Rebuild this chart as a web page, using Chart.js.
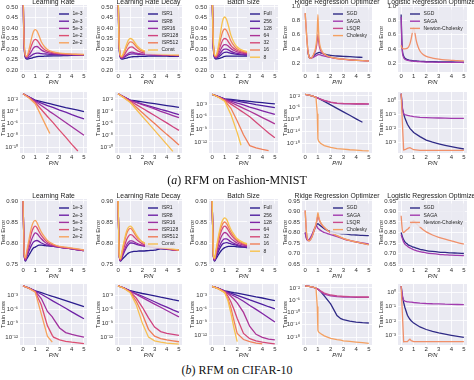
<!DOCTYPE html>
<html><head><meta charset="utf-8">
<script src="https://cdn.jsdelivr.net/npm/chart.js@4/dist/chart.umd.min.js"></script>
<style>
html,body{margin:0;padding:0;background:#fff}
body{width:474px;height:380px;position:relative;overflow:hidden;font-family:"Liberation Sans",Arial,sans-serif}
canvas{position:absolute}
.t{position:absolute;font-size:6.8px;line-height:7px;color:#222;white-space:nowrap;transform:translateX(-50%);z-index:3}
.cap{position:absolute;font-family:"Liberation Serif","Times New Roman",serif;font-size:12px;line-height:14px;color:#111;white-space:nowrap;transform:translateX(-50%);z-index:3}
</style></head><body>
<script>
// ================= DATA =================
// x grids (P/N)
const teX   = [0,0.05,0.1,0.2,0.3,0.5,0.7,0.85,1.0,1.15,1.3,1.5,1.75,2.0,2.5,3.0,3.5,4.0,4.5,5.0];
const teXbs = [0,0.05,0.1,0.2,0.3,0.5,0.7,0.85,1.0,1.15,1.3,1.5,1.75,2.0,2.5,3.0];
const rrX   = [0,0.1,0.2,0.3,0.4,0.5,0.6,0.7,0.8,0.9,0.95,1.0,1.05,1.1,1.2,1.35,1.5,1.75,2.0,2.5,3.0,3.5,4.0,4.5,5.0];
const lgX   = [0,0.05,0.1,0.2,0.3,0.5,0.6,0.7,0.8,0.9,1.0,1.1,1.2,1.35,1.5,1.75,2.0,2.5,3.0,3.5,4.0,4.5,5.0];
const tlX   = [0,0.5,1,1.5,2,2.5,3,3.5,4,4.5,5];
const fmLRtlX = [0,0.5,1,1.5,2,2.2,2.5,3,3.5,4,4.5,5];
const fmBStlX = [0,0.5,1,1.5,2,2.3,2.5,3,3.5,4,4.5,5];
const rrTlX   = [0,0.3,0.6,0.85,0.95,1.0,1.05,1.2,1.5,2,2.5,3,3.5,4,4.5,5];
const lgTlX   = [0,0.1,0.2,0.3,0.5,0.7,1.0,1.5,2,2.5,3,3.5,4,4.5,5];
const cfLRtlX = [0,0.5,1,1.5,2,2.4,2.5,3,3.5,4,4.5,5];
const cfBStlX = [0,0.5,1,1.25,1.5,1.75,2,2.5,3,3.5,4,4.5,5];
const cfRRtlX = [0,0.3,0.6,0.85,0.95,1.0,1.05,1.2,1.5,2,2.5,2.8,3,3.5,4,4.5,5];
const cfLGtlX = [0,0.1,0.2,0.3,0.5,0.6,0.7,0.8,1.0,1.5,2,2.5,3,3.5,4,4.5,5];

// labels
const lrLabels  = ['1e-3','2e-3','5e-3','1e-2','2e-2'];
const isrLabels = ['ISR1','ISR8','ISR16','ISR128','ISR512','Const'];
const bsLabels  = ['Full','256','128','64','32','16','8'];
const rrLabels  = ['SGD','SAGA','LSQR','Cholesky'];
const lgLabels  = ['SGD','SAGA','Newton-Cholesky'];
const titles    = ['Learning Rate','Learning Rate Decay','Batch Size','Ridge Regression Optimizer','Logistic Regression Optimizer'];

// ---- Fashion-MNIST test error ----
const fmLR_1e3 = [0.60,0.40,0.30,0.258,0.252,0.254,0.257,0.26,0.262,0.264,0.265,0.265,0.266,0.267,0.268,0.268,0.269,0.27,0.27,0.27];
const fmLR_2e3 = [0.60,0.41,0.31,0.262,0.256,0.262,0.27,0.276,0.279,0.281,0.28,0.278,0.277,0.276,0.274,0.273,0.272,0.272,0.271,0.271];
const fmLR_5e3 = [0.60,0.41,0.31,0.265,0.26,0.272,0.29,0.304,0.311,0.312,0.306,0.296,0.288,0.283,0.278,0.276,0.274,0.273,0.272,0.272];
const fmLR_1e2 = [0.60,0.42,0.32,0.268,0.263,0.285,0.318,0.338,0.346,0.342,0.33,0.312,0.298,0.29,0.282,0.278,0.276,0.275,0.274,0.273];
const fmLR_2e2 = [0.60,0.42,0.32,0.27,0.266,0.30,0.352,0.382,0.392,0.385,0.365,0.335,0.312,0.298,0.286,0.281,0.278,0.276,0.275,0.274];

const fmLRD_ISR1   = [0.60,0.40,0.30,0.258,0.252,0.254,0.257,0.26,0.262,0.263,0.264,0.264,0.265,0.265,0.266,0.266,0.266,0.266,0.265,0.265];
const fmLRD_ISR8   = [0.60,0.41,0.31,0.262,0.256,0.261,0.268,0.273,0.276,0.277,0.277,0.276,0.275,0.274,0.272,0.271,0.27,0.27,0.269,0.268];
const fmLRD_ISR16  = [0.60,0.41,0.31,0.263,0.257,0.264,0.273,0.28,0.284,0.285,0.283,0.28,0.278,0.276,0.274,0.272,0.271,0.27,0.27,0.269];
const fmLRD_ISR128 = [0.60,0.41,0.31,0.265,0.26,0.272,0.29,0.303,0.309,0.31,0.305,0.296,0.288,0.283,0.278,0.275,0.273,0.272,0.271,0.27];
const fmLRD_ISR512 = [0.60,0.42,0.32,0.268,0.263,0.282,0.309,0.326,0.334,0.333,0.325,0.311,0.298,0.29,0.282,0.278,0.275,0.273,0.272,0.271];
const fmLRD_Const  = [0.60,0.42,0.32,0.27,0.265,0.29,0.322,0.342,0.35,0.347,0.337,0.32,0.305,0.295,0.285,0.28,0.277,0.275,0.273,0.272];

const fmBS_Full = [0.60,0.40,0.30,0.258,0.252,0.254,0.258,0.262,0.265,0.266,0.266,0.266,0.266,0.266,0.266,0.266];
const fmBS_256  = [0.60,0.41,0.31,0.262,0.256,0.262,0.272,0.28,0.284,0.285,0.283,0.28,0.277,0.275,0.272,0.27];
const fmBS_128  = [0.60,0.41,0.31,0.263,0.258,0.268,0.284,0.295,0.30,0.30,0.296,0.289,0.283,0.279,0.275,0.273];
const fmBS_64   = [0.60,0.41,0.31,0.265,0.26,0.276,0.30,0.315,0.321,0.32,0.313,0.302,0.293,0.287,0.28,0.277];
const fmBS_32   = [0.60,0.42,0.32,0.268,0.263,0.287,0.322,0.343,0.35,0.346,0.334,0.316,0.302,0.293,0.284,0.28];
const fmBS_16   = [0.60,0.42,0.32,0.27,0.266,0.30,0.353,0.384,0.395,0.388,0.368,0.338,0.315,0.30,0.288,0.283];
const fmBS_8    = [0.60,0.43,0.33,0.272,0.27,0.315,0.39,0.437,0.452,0.44,0.41,0.365,0.33,0.31,0.292,0.285];

const fmRR_SGD  = [null,null,0.38,0.29,0.27,0.275,0.29,0.31,0.325,0.335,0.34,0.345,0.348,0.35,0.345,0.335,0.325,0.315,0.31,0.30,0.295,0.29,0.285,0.28,null];
const fmRR_SAGA = [null,null,0.38,0.29,0.27,0.27,0.278,0.288,0.298,0.308,0.313,0.318,0.32,0.32,0.315,0.306,0.298,0.288,0.28,0.266,0.256,0.248,0.241,0.236,0.232];
const fmRR_LSQR = [0.90,0.62,0.40,0.29,0.27,0.275,0.295,0.33,0.37,0.45,0.52,0.60,0.52,0.45,0.38,0.34,0.32,0.295,0.28,0.262,0.252,0.244,0.238,0.234,0.23];
const fmRR_Chol = [0.90,0.62,0.40,0.29,0.27,0.275,0.30,0.34,0.40,0.52,0.65,0.88,0.66,0.52,0.42,0.36,0.33,0.30,0.285,0.265,0.255,0.245,0.24,0.235,0.23];

const fmLG_SGD  = [0.88,0.55,0.38,0.30,0.27,0.25,0.245,0.24,0.237,0.235,0.233,0.232,0.23,0.228,0.226,0.224,0.222,0.22,0.218,0.217,0.216,0.215,0.214];
const fmLG_SAGA = [0.85,0.50,0.35,0.28,0.255,0.24,0.236,0.232,0.23,0.228,0.226,0.225,0.224,0.222,0.22,0.218,0.216,0.214,0.212,0.211,0.21,0.21,0.209];
const fmLG_NC   = [0.45,0.42,0.41,0.40,0.40,0.41,0.43,0.47,0.54,0.63,0.70,0.62,0.52,0.43,0.37,0.32,0.295,0.27,0.255,0.245,0.24,0.235,0.232];

// ---- Fashion-MNIST train loss (log10 of loss) ----
const fmLRtl_1e3 = [-1.15,-1.7,-2.2,-2.45,-2.7,-2.8,-2.95,-3.2,-3.45,-3.65,-3.85,-4.1];
const fmLRtl_2e3 = [-1.15,-1.7,-2.3,-2.7,-3.1,-3.25,-3.45,-3.85,-4.2,-4.6,-4.95,-5.3];
const fmLRtl_5e3 = [-1.15,-1.75,-2.4,-3.1,-3.8,-4.1,-4.5,-5.2,-5.9,-6.6,-7.3,-8.0];
const fmLRtl_1e2 = [-1.15,-1.8,-2.6,-3.75,-4.9,-5.35,-6.0,-7.2,-8.3,-9.5,-10.6,null];
const fmLRtl_2e2 = [-1.15,-1.85,-2.8,-4.85,-6.9,-7.7,null,null,null,null,null,null];

const fmLRDtl_ISR1   = [-1.15,-1.7,-2.2,-2.35,-2.5,-2.65,-2.8,-2.95,-3.1,-3.25,-3.4];
const fmLRDtl_ISR8   = [-1.15,-1.7,-2.25,-2.55,-2.85,-3.15,-3.45,-3.75,-4.0,-4.3,-4.6];
const fmLRDtl_ISR16  = [-1.15,-1.7,-2.25,-2.6,-2.95,-3.3,-3.65,-4.05,-4.4,-4.75,-5.1];
const fmLRDtl_ISR128 = [-1.15,-1.75,-2.35,-2.95,-3.55,-4.15,-4.75,-5.35,-5.95,-6.6,-7.2];
const fmLRDtl_ISR512 = [-1.15,-1.8,-2.5,-3.4,-4.3,-5.2,-6.05,-6.95,-7.85,-8.7,-9.6];
const fmLRDtl_Const  = [-1.15,-1.85,-2.6,-3.75,-4.9,-6.05,-7.2,-8.35,-9.5,-10.65,null];

const fmBStl_Full = [-0.65,-1.2,-1.75,-1.9,-2.05,-2.15,-2.2,-2.35,-2.5,-2.65,-2.8,-2.95];
const fmBStl_256  = [-0.65,-1.2,-1.8,-2.05,-2.3,-2.45,-2.55,-2.8,-3.1,-3.35,-3.6,-3.85];
const fmBStl_128  = [-0.65,-1.2,-1.85,-2.3,-2.75,-3.0,-3.2,-3.7,-4.15,-4.6,-5.05,-5.45];
const fmBStl_64   = [-0.65,-1.25,-1.9,-2.6,-3.3,-3.7,-4.0,-4.7,-5.45,-6.2,-6.95,-7.7];
const fmBStl_32   = [-0.65,-1.25,-2.0,-3.0,-4.0,-4.6,-5.0,-6.0,-7.3,-8.6,-9.9,-11.0];
const fmBStl_16   = [-0.65,-1.3,-2.2,-4.0,-7.0,-9.0,-10.3,-12.9,-13.4,-13.8,-14.1,null];
const fmBStl_8    = [-0.65,-1.35,-2.3,-5.5,-9.8,-12.8,null,null,null,null,null,null];

const fmRRtl_SGD  = [-1.45,-1.7,-2.1,-2.45,-2.6,-2.7,-2.8,-3.15,-3.85,-5.0,-6.2,-7.4,-8.55,-9.75,-10.9,null];
const fmRRtl_SAGA = [-1.45,-1.7,-2.1,-2.45,-2.6,-2.7,-2.8,-3.1,-3.6,-4.2,-4.5,-4.65,-4.7,-4.75,-4.75,-4.8];
const fmRRtl_LSQR = [-1.45,-1.7,-2.1,-2.45,-2.6,-2.7,-2.8,-3.05,-3.5,-4.1,-4.4,-4.55,-4.6,-4.65,-4.65,-4.7];
const fmRRtl_Chol = [-1.45,-1.7,-2.1,-2.5,-8.0,-16.5,-17.2,-18.0,-18.8,-19.4,-19.8,-20.0,-20.2,-20.35,-20.5,-20.6];

const fmLGtl_SGD  = [0.52,-0.6,-0.95,-1.25,-1.7,-2.0,-2.3,-2.6,-2.85,-3.0,-3.12,-3.23,-3.33,-3.42,-3.5];
const fmLGtl_SAGA = [0.52,-0.5,-0.95,-1.0,-1.05,-1.1,-1.15,-1.2,-1.22,-1.24,-1.25,-1.26,-1.27,-1.28,-1.28];
const fmLGtl_NC   = [0.52,-1.64,-3.57,-3.55,-3.45,-3.4,-3.55,-3.6,-3.6,-3.6,-3.6,-3.6,-3.6,-3.6,-3.6];

// ---- CIFAR-10 test error ----
const cfLR_1e3 = [0.90,0.83,0.77,0.757,0.762,0.772,0.782,0.788,0.79,0.793,0.795,0.795,0.794,0.793,0.792,0.79,0.788,0.786,0.784,0.782];
const cfLR_2e3 = [0.90,0.83,0.77,0.758,0.766,0.782,0.795,0.802,0.805,0.806,0.804,0.80,0.797,0.795,0.792,0.79,0.788,0.786,0.784,0.782];
const cfLR_5e3 = [0.90,0.83,0.77,0.76,0.77,0.79,0.808,0.818,0.824,0.822,0.817,0.81,0.803,0.798,0.793,0.79,0.788,0.786,0.784,0.782];
const cfLR_1e2 = [0.90,0.83,0.772,0.762,0.775,0.80,0.825,0.836,0.84,0.836,0.828,0.818,0.809,0.802,0.795,0.791,0.789,0.787,0.785,0.783];
const cfLR_2e2 = [0.90,0.83,0.773,0.765,0.78,0.81,0.838,0.85,0.854,0.848,0.838,0.826,0.815,0.806,0.797,0.792,0.79,0.788,0.786,0.783];

const cfLRD_ISR1   = [0.90,0.83,0.77,0.757,0.76,0.766,0.772,0.776,0.778,0.779,0.78,0.78,0.781,0.781,0.782,0.783,0.786,0.785,0.784,0.783];
const cfLRD_ISR8   = [0.90,0.83,0.77,0.758,0.764,0.778,0.79,0.796,0.80,0.80,0.799,0.797,0.795,0.793,0.791,0.789,0.787,0.786,0.784,0.783];
const cfLRD_ISR16  = [0.90,0.83,0.77,0.758,0.766,0.782,0.796,0.802,0.805,0.805,0.803,0.80,0.797,0.795,0.792,0.79,0.788,0.786,0.784,0.783];
const cfLRD_ISR128 = [0.90,0.83,0.77,0.76,0.77,0.79,0.808,0.816,0.82,0.819,0.815,0.809,0.803,0.798,0.793,0.79,0.788,0.786,0.784,0.783];
const cfLRD_ISR512 = [0.90,0.83,0.77,0.762,0.774,0.80,0.822,0.831,0.835,0.832,0.825,0.816,0.808,0.802,0.795,0.791,0.789,0.787,0.785,0.783];
const cfLRD_Const  = [0.90,0.83,0.77,0.763,0.777,0.805,0.828,0.837,0.84,0.837,0.83,0.82,0.81,0.803,0.796,0.792,0.79,0.788,0.786,0.783];

const cfBS_Full = [0.90,0.83,0.77,0.757,0.762,0.772,0.781,0.786,0.789,0.791,0.792,0.792,0.792,0.791,0.79,0.788];
const cfBS_256  = [0.90,0.83,0.77,0.758,0.765,0.78,0.792,0.798,0.80,0.801,0.80,0.798,0.796,0.794,0.791,0.789];
const cfBS_128  = [0.90,0.83,0.77,0.759,0.768,0.786,0.80,0.807,0.81,0.81,0.807,0.803,0.799,0.796,0.792,0.79];
const cfBS_64   = [0.90,0.83,0.77,0.76,0.772,0.795,0.813,0.821,0.825,0.823,0.818,0.811,0.805,0.80,0.795,0.792];
const cfBS_32   = [0.90,0.83,0.77,0.762,0.776,0.804,0.826,0.836,0.84,0.837,0.83,0.82,0.811,0.804,0.797,0.793];
const cfBS_16   = [0.90,0.83,0.77,0.763,0.779,0.81,0.835,0.846,0.85,0.846,0.838,0.826,0.815,0.807,0.799,0.795];
const cfBS_8    = [0.90,0.83,0.77,0.764,0.782,0.816,0.843,0.855,0.86,0.856,0.846,0.832,0.82,0.81,0.801,0.797];

const cfRR_SGD  = [0.80,0.775,0.765,0.765,0.77,0.78,0.795,0.81,0.825,0.835,0.84,0.842,0.84,0.837,0.832,0.825,0.818,0.81,0.805,0.797,0.793,0.79,0.788,0.786,0.785];
const cfRR_SAGA = [0.80,0.77,0.762,0.765,0.775,0.785,0.80,0.815,0.825,0.83,0.826,0.82,0.818,0.815,0.81,0.805,0.80,0.795,0.79,0.78,0.77,0.762,0.756,0.75,0.745];
const cfRR_LSQR = [0.905,0.80,0.765,0.76,0.765,0.775,0.79,0.808,0.828,0.85,0.866,0.882,0.872,0.86,0.847,0.833,0.823,0.809,0.799,0.784,0.771,0.761,0.754,0.748,0.742];
const cfRR_Chol = [0.905,0.80,0.765,0.76,0.765,0.775,0.79,0.81,0.83,0.855,0.875,0.895,0.88,0.865,0.85,0.835,0.825,0.81,0.80,0.785,0.772,0.762,0.755,0.748,0.742];

const cfLG_SGD  = [0.80,0.79,0.78,0.765,0.755,0.745,0.74,0.737,0.735,0.732,0.73,0.728,0.726,0.723,0.72,0.717,0.714,0.71,0.707,0.705,0.703,0.702,0.70];
const cfLG_SAGA = [0.79,0.78,0.77,0.755,0.745,0.735,0.73,0.727,0.724,0.721,0.718,0.716,0.714,0.711,0.709,0.706,0.703,0.699,0.696,0.694,0.692,0.691,0.69];
const cfLG_NC   = [0.88,0.84,0.81,0.80,0.805,0.815,0.82,0.83,0.84,0.85,0.858,0.85,0.843,0.835,0.826,0.813,0.803,0.788,0.777,0.768,0.76,0.752,0.745];

// ---- CIFAR-10 train loss (log10 of loss) ----
const cfLRtl_1e3 = [-0.86,-1.35,-1.9,-2.33,-2.77,-3.1,-3.2,-3.63,-4.06,-4.5,-4.93,-5.36];
const cfLRtl_2e3 = [-0.86,-1.35,-1.95,-2.66,-3.43,-4.04,-4.2,-4.95,-5.7,-6.5,-7.25,-8.0];
const cfLRtl_5e3 = [-0.86,-1.35,-2.0,-3.6,-6.4,-7.6,-8.0,-10.0,-11.0,-11.4,-11.7,-12.0];
const cfLRtl_1e2 = [-0.86,-1.4,-2.1,-5.0,-9.5,-11.6,-12.0,-12.6,-12.9,-13.1,-13.25,-13.4];
const cfLRtl_2e2 = [-0.86,-1.4,-2.2,-7.0,-11.8,-13.1,null,null,null,null,null,null];

const cfLRDtl_ISR1   = [-0.86,-1.3,-1.9,-2.2,-2.5,-2.75,-3.0,-3.3,-3.55,-3.85,-4.1];
const cfLRDtl_ISR8   = [-0.86,-1.3,-1.95,-2.55,-3.1,-3.7,-4.3,-4.9,-5.45,-6.05,-6.6];
const cfLRDtl_ISR16  = [-0.86,-1.3,-2.0,-2.7,-3.4,-4.1,-4.8,-5.5,-6.2,-6.9,-7.6];
const cfLRDtl_ISR128 = [-0.86,-1.35,-2.1,-3.5,-5.5,-7.8,-9.8,-10.8,-11.2,-11.4,-11.6];
const cfLRDtl_ISR512 = [-0.86,-1.35,-2.2,-4.2,-7.0,-10.3,-11.8,-12.3,-12.6,-12.8,-13.0];
const cfLRDtl_Const  = [-0.86,-1.4,-2.3,-5.0,-9.0,-12.0,-12.8,-13.1,-13.3,-13.4,-13.5];

const cfBStl_Full = [-0.86,-1.3,-1.85,-2.0,-2.15,-2.3,-2.4,-2.65,-2.95,-3.25,-3.5,-3.8,-4.1];
const cfBStl_256  = [-0.86,-1.3,-1.9,-2.15,-2.4,-2.65,-2.9,-3.4,-3.95,-4.45,-4.95,-5.5,-6.0];
const cfBStl_128  = [-0.86,-1.3,-1.95,-2.3,-2.7,-3.05,-3.4,-4.25,-5.2,-6.1,-7.05,-8.0,-9.0];
const cfBStl_64   = [-0.86,-1.3,-2.0,-2.5,-3.1,-3.8,-4.6,-6.8,-10.0,-11.8,-12.5,-12.9,-13.1];
const cfBStl_32   = [-0.86,-1.35,-2.1,-3.0,-4.4,-6.2,-8.2,-11.6,-12.8,-13.3,-13.6,-13.8,-14.0];
const cfBStl_16   = [-0.86,-1.4,-2.2,-3.6,-5.8,-8.8,-11.6,-13.0,-13.5,-13.8,-14.0,null,null];
const cfBStl_8    = [-0.86,-1.4,-2.3,-4.0,-7.0,-10.5,-13.5,null,null,null,null,null,null];

const cfRRtl_SGD  = [-1.36,-1.5,-1.75,-2.1,-2.25,-2.4,-2.6,-3.1,-4.6,-7.2,-11.0,-12.0,-12.3,-12.8,-13.1,-13.3,-13.4];
const cfRRtl_SAGA = [-1.36,-1.5,-1.75,-2.1,-2.25,-2.4,-2.6,-3.1,-4.0,-4.55,-4.8,-4.9,-4.95,-5.0,-5.05,-5.1,-5.1];
const cfRRtl_LSQR = [-1.36,-1.5,-1.75,-2.1,-2.25,-2.4,-2.55,-2.95,-3.7,-4.3,-4.6,-4.7,-4.75,-4.85,-4.9,-4.95,-4.95];
const cfRRtl_Chol = [-1.36,-1.5,-1.7,-2.0,-8.0,-15.8,-16.3,-16.8,-17.6,-18.4,-18.8,-19.0,-19.2,-19.4,-19.6,-19.8,-20.0];

const cfLGtl_SGD  = [0.46,-0.3,-0.7,-1.05,-1.6,-1.75,-1.88,-1.98,-2.15,-2.42,-2.6,-2.73,-2.84,-2.93,-3.01,-3.09,-3.16];
const cfLGtl_SAGA = [0.46,-0.2,-0.55,-0.6,-0.65,-0.66,-0.67,-0.68,-0.7,-0.74,-0.77,-0.79,-0.8,-0.82,-0.83,-0.84,-0.85];
const cfLGtl_NC   = [0.46,-1.5,-3.46,-3.45,-3.45,-3.35,-3.28,-3.38,-3.45,-3.45,-3.45,-3.45,-3.45,-3.45,-3.45,-3.45,-3.45];

// tick values
const xTicks    = [0,1,2,3,4,5];
const fmTeTicks = [0.20,0.25,0.30,0.35,0.40,0.45,0.50];
const fmOptTicks= [0.2,0.4,0.6,0.8,1.0];
const cfTeTicks = [0.75,0.80,0.85,0.90];
const cfOptTicks= [0.65,0.70,0.75,0.80,0.85,0.90,0.95];
const tlTicksA  = [-2,-4,-6,-8,-10];
const tlTicksB  = [-3,-6,-9,-12];
const tlTicksR  = [-2,-6,-10,-14,-18];
const tlTicksL  = [0,-1,-2,-3];

// ================= STYLE / LAYOUT =================
const C5 = ['#2b1d8e','#6e22a6','#a0329f','#dc4f72','#f7a35e'];
const C6 = ['#2b1d8e','#6e22a6','#9b2fa2','#d0437f','#ef7c58','#f7bf52'];
const C7 = ['#2b1d8e','#4f1fa0','#7f25a5','#ac3496','#d44a78','#f0805a','#f8c24e'];
const CR = ['#2f2a86','#a23caf','#c84a8c','#f4a061'];
const CL = ['#2f2a86','#a23caf','#f0906a'];
const COLS = [[20,87],[115,182],[209,278],[302,372],[398,467]];
const ROWS = [[4,72],[91,153],[198,266],[283,345]];
const LEGDX = [39,33,41,31,12];

const SUP = {'-':'\u207B','0':'\u2070','1':'\u00B9','2':'\u00B2','3':'\u00B3','4':'\u2074','5':'\u2075','6':'\u2076','7':'\u2077','8':'\u2078','9':'\u2079'};
function pow10Label(v){const e=Math.round(Math.log10(v));return '10'+String(e).split('').map(c=>SUP[c]).join('');}

const bgPlugin={id:'bgp',beforeDraw(c){const a=c.chartArea,x=c.ctx;x.save();x.fillStyle='#EAEAF2';x.fillRect(a.left,a.top,a.right-a.left,a.bottom-a.top);x.restore();}};
const legPlugin={id:'legp',afterDatasetsDraw(c,args,o){
  if(!o||!o.show)return;
  const a=c.chartArea,ctx=c.ctx,ds=c.data.datasets,sp=7.2;
  const x0=a.left+o.dx,y0=a.top+9;
  ctx.save();
  ctx.fillStyle='rgba(234,234,242,0.85)';
  ctx.fillRect(x0-3,y0-4.5,a.right-2-(x0-3),sp*(ds.length-1)+9);
  ctx.font='5px "Liberation Sans", Arial, sans-serif';ctx.textBaseline='middle';ctx.textAlign='left';
  ds.forEach((d,i)=>{const y=y0+i*sp;ctx.strokeStyle=d.borderColor;ctx.lineWidth=1.4;ctx.beginPath();ctx.moveTo(x0,y);ctx.lineTo(x0+10,y);ctx.stroke();ctx.fillStyle='#262626';ctx.fillText(d.label,x0+13.5,y);});
  ctx.restore();
}};

function panel(row,col,x,series,labels,colors,y){
  const [L,R]=COLS[col],[T,B]=ROWS[row];
  const padL=20,padT=4,padR=4,axH=13;
  const w=R-L+padL+padR,h=B-T+padT+axH;
  const cv=document.createElement('canvas');
  cv.width=w;cv.height=h;cv.style.width=w+'px';cv.style.height=h+'px';
  cv.style.left=(L-padL)+'px';cv.style.top=(T-padT)+'px';
  document.body.appendChild(cv);
  const n=series.length;
  const datasets=series.map((s,i)=>({
    label:labels[i],order:n-i,
    data:x.map((xv,j)=>({x:xv,y:(s[j]==null?null:(y.log?Math.pow(10,s[j]):s[j]))})),
    borderColor:colors[i],borderWidth:1.3,pointRadius:0,fill:false,spanGaps:false,
    tension:0,cubicInterpolationMode:y.log?'default':'monotone'
  }));
  const tf={size:6,family:'"Liberation Sans", Arial, sans-serif',lineHeight:1};
  new Chart(cv,{type:'line',data:{datasets},plugins:[bgPlugin,legPlugin],options:{
    responsive:false,animation:false,devicePixelRatio:1,parsing:true,
    layout:{padding:{top:padT,right:padR,left:0,bottom:0}},
    plugins:{legend:{display:false},tooltip:{enabled:false},legp:{show:!!y.legend,dx:LEGDX[col]}},
    scales:{
      x:{type:'linear',min:-0.25,max:5.25,
        afterFit:s=>{s.height=axH;},
        afterBuildTicks:s=>{s.ticks=xTicks.map(v=>({value:v}));},
        ticks:{font:tf,color:'#333',padding:1,maxRotation:0,autoSkip:false,callback:v=>String(v)},
        grid:{color:'#ffffff',lineWidth:0.8,drawTicks:false},border:{display:false},
        title:{display:true,text:'P/N',color:'#222',padding:0,font:{size:5.8,style:'italic',family:'"Liberation Sans", Arial, sans-serif',lineHeight:1}}},
      y:{type:y.log?'logarithmic':'linear',
        min:y.log?Math.pow(10,y.min):y.min,max:y.log?Math.pow(10,y.max):y.max,
        afterFit:s=>{s.width=padL;},
        afterBuildTicks:s=>{s.ticks=y.ticks.map(v=>({value:y.log?Math.pow(10,v):v}));},
        ticks:{font:tf,color:'#333',padding:2,autoSkip:false,callback:v=>y.log?pow10Label(v):v.toFixed(y.dec)},
        grid:{color:'#ffffff',lineWidth:0.8,drawTicks:false},border:{display:false},
        title:{display:true,text:y.title,color:'#222',padding:0,font:{size:5.8,family:'"Liberation Sans", Arial, sans-serif',lineHeight:1}}}
    }}});
}

// ===== Row 1: Fashion-MNIST test error =====
const fmTe={min:0.191,max:0.509,ticks:fmTeTicks,dec:2,title:'Test Error',legend:true};
const fmOpt={min:0.076,max:1.014,ticks:fmOptTicks,dec:1,title:'Test Error',legend:true};
panel(0,0,teX,[fmLR_1e3,fmLR_2e3,fmLR_5e3,fmLR_1e2,fmLR_2e2],lrLabels,C5,fmTe);
panel(0,1,teX,[fmLRD_ISR1,fmLRD_ISR8,fmLRD_ISR16,fmLRD_ISR128,fmLRD_ISR512,fmLRD_Const],isrLabels,C6,fmTe);
panel(0,2,teXbs,[fmBS_Full,fmBS_256,fmBS_128,fmBS_64,fmBS_32,fmBS_16,fmBS_8],bsLabels,C7,fmTe);
panel(0,3,rrX,[fmRR_SGD,fmRR_SAGA,fmRR_LSQR,fmRR_Chol],rrLabels,CR,fmOpt);
panel(0,4,lgX,[fmLG_SGD,fmLG_SAGA,fmLG_NC],lgLabels,CL,fmOpt);

// ===== Row 2: Fashion-MNIST train loss =====
panel(1,0,fmLRtlX,[fmLRtl_1e3,fmLRtl_2e3,fmLRtl_5e3,fmLRtl_1e2,fmLRtl_2e2],lrLabels,C5,{log:true,min:-10.92,max:-0.87,ticks:tlTicksA,title:'Train Loss'});
panel(1,1,tlX,[fmLRDtl_ISR1,fmLRDtl_ISR8,fmLRDtl_ISR16,fmLRDtl_ISR128,fmLRDtl_ISR512,fmLRDtl_Const],isrLabels,C6,{log:true,min:-10.92,max:-0.87,ticks:tlTicksA,title:'Train Loss'});
panel(1,2,fmBStlX,[fmBStl_Full,fmBStl_256,fmBStl_128,fmBStl_64,fmBStl_32,fmBStl_16,fmBStl_8],bsLabels,C7,{log:true,min:-14.65,max:-0.11,ticks:tlTicksB,title:'Train Loss'});
panel(1,3,rrTlX,[fmRRtl_SGD,fmRRtl_SAGA,fmRRtl_LSQR,fmRRtl_Chol],rrLabels,CR,{log:true,min:-21.3,max:-0.67,ticks:tlTicksR,title:'Train Loss'});
panel(1,4,lgTlX,[fmLGtl_SGD,fmLGtl_SAGA,fmLGtl_NC],lgLabels,CL,{log:true,min:-3.79,max:0.64,ticks:tlTicksL,title:'Train Loss'});

// ===== Row 3: CIFAR-10 test error =====
const cfTe={min:0.7453,max:0.9047,ticks:cfTeTicks,dec:2,title:'Test Error',legend:true};
const cfOpt={min:0.6406,max:0.9594,ticks:cfOptTicks,dec:2,title:'Test Error',legend:true};
panel(2,0,teX,[cfLR_1e3,cfLR_2e3,cfLR_5e3,cfLR_1e2,cfLR_2e2],lrLabels,C5,cfTe);
panel(2,1,teX,[cfLRD_ISR1,cfLRD_ISR8,cfLRD_ISR16,cfLRD_ISR128,cfLRD_ISR512,cfLRD_Const],isrLabels,C6,cfTe);
panel(2,2,teXbs,[cfBS_Full,cfBS_256,cfBS_128,cfBS_64,cfBS_32,cfBS_16,cfBS_8],bsLabels,C7,cfTe);
panel(2,3,rrX,[cfRR_SGD,cfRR_SAGA,cfRR_LSQR,cfRR_Chol],rrLabels,CR,cfOpt);
panel(2,4,lgX,[cfLG_SGD,cfLG_SAGA,cfLG_NC],lgLabels,CL,cfOpt);

// ===== Row 4: CIFAR-10 train loss =====
panel(3,0,cfLRtlX,[cfLRtl_1e3,cfLRtl_2e3,cfLRtl_5e3,cfLRtl_1e2,cfLRtl_2e2],lrLabels,C5,{log:true,min:-13.71,max:-0.43,ticks:tlTicksB,title:'Train Loss'});
panel(3,1,tlX,[cfLRDtl_ISR1,cfLRDtl_ISR8,cfLRDtl_ISR16,cfLRDtl_ISR128,cfLRDtl_ISR512,cfLRDtl_Const],isrLabels,C6,{log:true,min:-13.71,max:-0.43,ticks:tlTicksB,title:'Train Loss'});
panel(3,2,cfBStlX,[cfBStl_Full,cfBStl_256,cfBStl_128,cfBStl_64,cfBStl_32,cfBStl_16,cfBStl_8],bsLabels,C7,{log:true,min:-14.25,max:-0.3,ticks:tlTicksB,title:'Train Loss'});
panel(3,3,cfRRtlX,[cfRRtl_SGD,cfRRtl_SAGA,cfRRtl_LSQR,cfRRtl_Chol],rrLabels,CR,{log:true,min:-20.56,max:-0.72,ticks:tlTicksR,title:'Train Loss'});
panel(3,4,cfLGtlX,[cfLGtl_SGD,cfLGtl_SAGA,cfLGtl_NC],lgLabels,CL,{log:true,min:-3.69,max:0.6,ticks:tlTicksL,title:'Train Loss'});

// ===== titles & captions =====
[[ -2 ],[ 191.5 ]].forEach(([top])=>{
  titles.forEach((t,i)=>{const d=document.createElement('div');d.className='t';d.textContent=t;d.style.left=((COLS[i][0]+COLS[i][1])/2)+'px';d.style.top=top+'px';document.body.appendChild(d);});
});
[['a','RFM on Fashion-MNIST',173],['b','RFM on CIFAR-10',363]].forEach(([k,t,top])=>{
  const d=document.createElement('div');d.className='cap';d.innerHTML='(<i>'+k+'</i>) '+t;d.style.left='237px';d.style.top=top+'px';document.body.appendChild(d);
});
</script>
</body></html>
